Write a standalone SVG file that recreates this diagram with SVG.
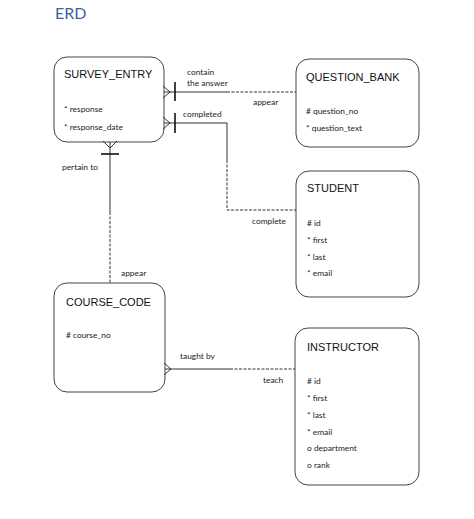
<svg xmlns="http://www.w3.org/2000/svg" width="474" height="519" viewBox="0 0 474 519">
<style>
.box{fill:#fff;stroke:#444;stroke-width:1}
.title{font-family:"Liberation Sans",Arial,sans-serif;font-size:11px;fill:#111}
.attr{font-family:Lato,"Open Sans",sans-serif;font-size:8.4px;fill:#222}
.lbl{font-family:Lato,"Open Sans",sans-serif;font-size:8.4px;fill:#222}
.solid{fill:none;stroke:#333;stroke-width:1}
.dash{fill:none;stroke:#333;stroke-width:1;stroke-dasharray:3 1.5}
.bar{stroke:#111;stroke-width:1.6}
</style>
<rect width="474" height="519" fill="#fff"/>
<text x="55" y="19" font-family="Lato,'Open Sans',sans-serif" font-size="16" fill="#3f5f9f">ERD</text>

<g id="survey_entry">
<rect class="box" x="54" y="57" width="110" height="85" rx="13"/>
<text class="title" x="64" y="78">SURVEY_ENTRY</text>
<text class="attr" x="64" y="112">* response</text>
<text class="attr" x="64" y="130">* response_date</text>
</g>
<g id="question_bank">
<rect class="box" x="296" y="59" width="123" height="88" rx="13"/>
<text class="title" x="306" y="81">QUESTION_BANK</text>
<text class="attr" x="306" y="114"># question_no</text>
<text class="attr" x="306" y="131">* question_text</text>
</g>
<g id="student">
<rect class="box" x="296" y="171" width="123" height="126" rx="13"/>
<text class="title" x="307" y="192">STUDENT</text>
<text class="attr" x="307" y="226"># id</text>
<text class="attr" x="307" y="243">* first</text>
<text class="attr" x="307" y="260">* last</text>
<text class="attr" x="307" y="276">* email</text>
</g>
<g id="course_code">
<rect class="box" x="54" y="283" width="111" height="109" rx="13"/>
<text class="title" x="66" y="306">COURSE_CODE</text>
<text class="attr" x="66" y="338"># course_no</text>
</g>
<g id="instructor">
<rect class="box" x="295" y="328" width="124" height="157" rx="13"/>
<text class="title" x="307" y="351">INSTRUCTOR</text>
<text class="attr" x="307" y="384"># id</text>
<text class="attr" x="307" y="401">* first</text>
<text class="attr" x="307" y="418">* last</text>
<text class="attr" x="307" y="435">* email</text>
<text class="attr" x="307" y="451">o department</text>
<text class="attr" x="307" y="468">o rank</text>
</g>

<g id="connectors">
<!-- SURVEY_ENTRY - QUESTION_BANK -->
<path class="solid" d="M164 92 H227"/>
<path class="dash" d="M227 92 H296"/>
<path class="solid" d="M163 86 L170 92 L163 98"/>
<line class="bar" x1="175" y1="82" x2="175" y2="101"/>
<!-- SURVEY_ENTRY - STUDENT -->
<path class="solid" d="M164 123 H227 V160"/>
<path class="dash" d="M227 160 V210 H296"/>
<path class="solid" d="M163 117 L170 123 L163 129"/>
<line class="bar" x1="175" y1="113" x2="175" y2="133"/>
<!-- SURVEY_ENTRY - COURSE_CODE -->
<path class="solid" d="M110 142 V212"/>
<path class="dash" d="M110 212 V283"/>
<path class="solid" d="M103 141 L110 148 L117 141"/>
<line class="bar" x1="101" y1="154" x2="119" y2="154"/>
<!-- COURSE_CODE - INSTRUCTOR -->
<path class="solid" d="M165 369 H230"/>
<path class="dash" d="M230 369 H295"/>
<path class="solid" d="M164 363 L171 369 L164 375"/>
</g>

<g id="labels">
<text class="lbl" x="187" y="75">contain</text>
<text class="lbl" x="187" y="86">the answer</text>
<text class="lbl" x="253" y="105">appear</text>
<text class="lbl" x="183" y="117">completed</text>
<text class="lbl" x="252" y="224">complete</text>
<text class="lbl" x="62" y="170">pertain to</text>
<text class="lbl" x="121" y="276">appear</text>
<text class="lbl" x="180" y="359">taught by</text>
<text class="lbl" x="263" y="383">teach</text>
</g>
</svg>
